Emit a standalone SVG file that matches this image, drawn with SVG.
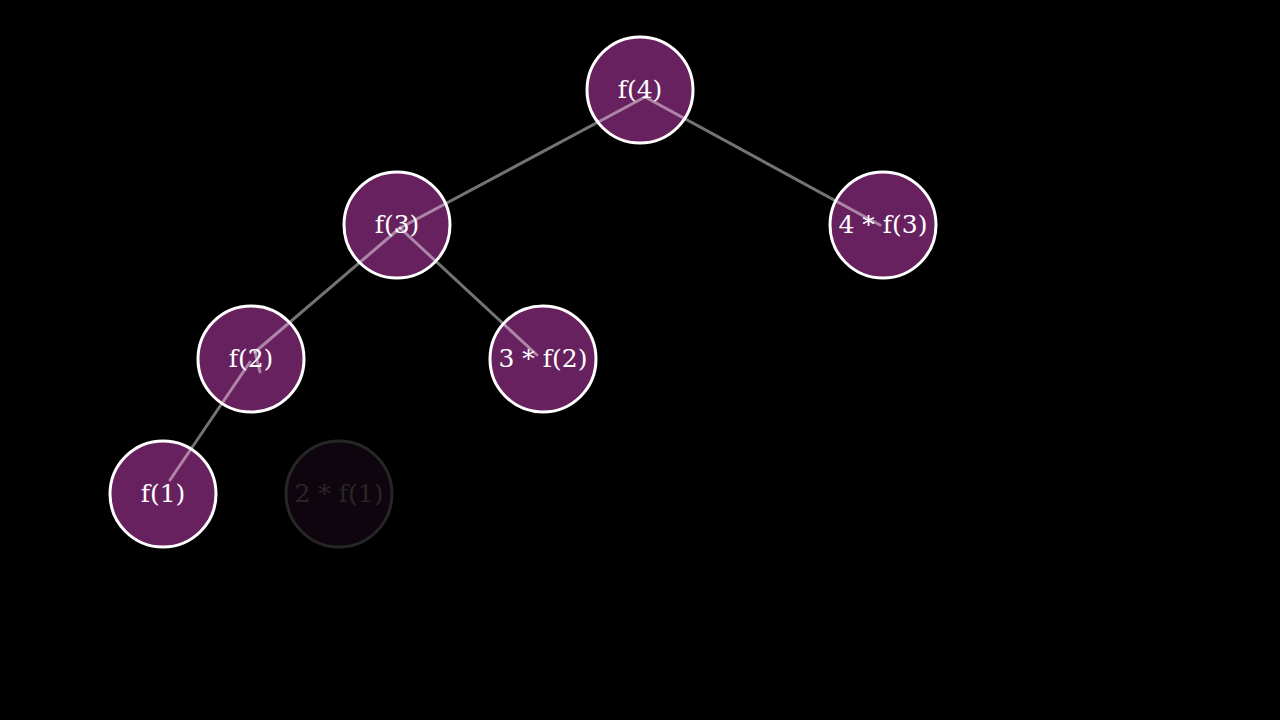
<svg xmlns="http://www.w3.org/2000/svg" width="1280" height="720" viewBox="0 0 1280 720">
<style>
.n circle{fill:#68215f;stroke:#fff;stroke-width:3}
.n text{fill:#fff;font-family:"DejaVu Serif","Liberation Serif",serif;font-size:25px;text-anchor:middle;dominant-baseline:central}
.e line{stroke:#fff;stroke-opacity:0.45;stroke-width:3;stroke-linecap:round}
</style>
<rect width="1280" height="720" fill="#000"/>
<g id="n-f4" class="n"><circle cx="640" cy="90" r="53"/><text x="640" y="89">f(4)</text></g>
<g id="n-f3" class="n"><circle cx="397" cy="225" r="53"/><text x="397" y="224">f(3)</text></g>
<g id="n-4f3" class="n"><circle cx="883" cy="225" r="53"/><text x="883" y="224">4 * f(3)</text></g>
<g id="n-f2" class="n"><circle cx="251" cy="359" r="53"/><text x="251" y="358">f(2)</text></g>
<g id="n-3f2" class="n"><circle cx="543" cy="359" r="53"/><text x="543" y="358">3 * f(2)</text></g>
<g id="n-f1" class="n"><circle cx="163" cy="494" r="53"/><text x="163" y="493">f(1)</text></g>
<g id="n-2f1" class="n" opacity="0.15"><circle cx="339" cy="494" r="53"/><text x="339" y="493">2 * f(1)</text></g>
<g id="edges" class="e">
<line x1="645" y1="97" x2="400" y2="228"/>
<line x1="645" y1="97" x2="880" y2="225"/>
<line x1="400" y1="228" x2="255" y2="352"/>
<line x1="400" y1="228" x2="537" y2="355"/>
<line x1="255" y1="352" x2="260" y2="372"/>
<line x1="250" y1="362" x2="170" y2="480"/>
</g>
</svg>
